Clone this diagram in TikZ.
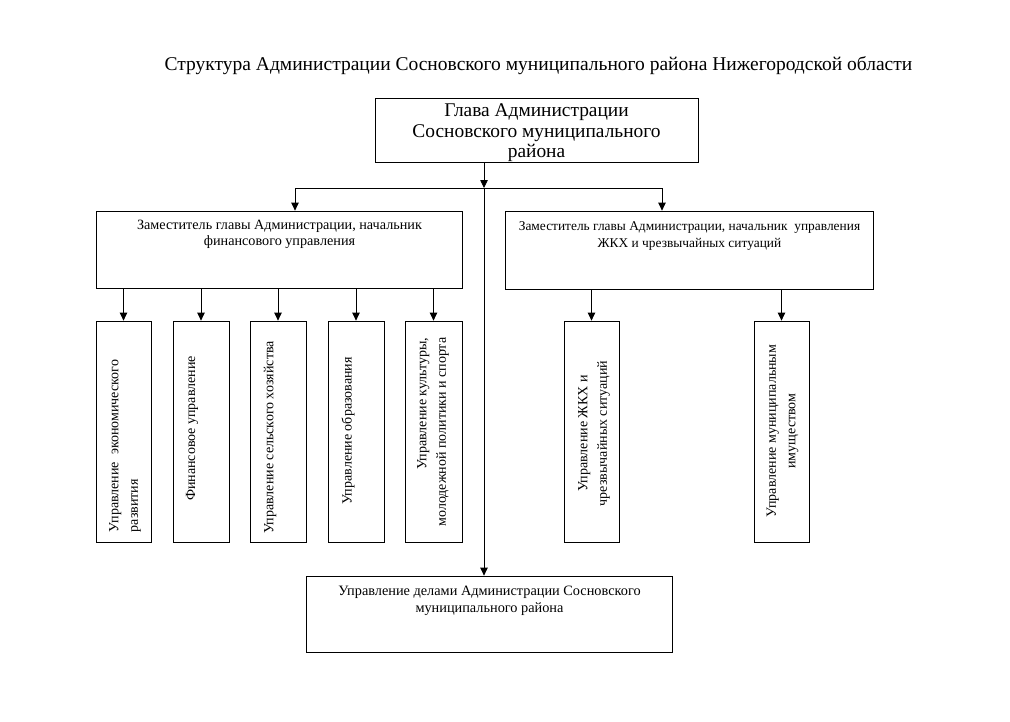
\documentclass[tikz,border=0pt]{standalone}
\usepackage{fontspec}
\setmainfont{Liberation Serif}
\usetikzlibrary{arrows.meta}
\begin{document}
\begin{tikzpicture}[x={(1pt,0)},y={(0,-1pt)},
  box/.style={draw, line width=0.8pt, inner sep=0pt},
  sub/.style={box, minimum width=56pt, minimum height=221pt},
  arr/.style={line width=0.8pt, -{Triangle[length=8pt,width=7.5pt]}},
  ln/.style={line width=0.8pt},
  vtxt/.style={rotate=90, inner sep=0pt, font=\fontsize{14}{19.5}\selectfont},
  htxt/.style={inner sep=0pt, align=center, font=\fontsize{14.2}{16.5}\selectfont}]
\fill[white] (0,0) rectangle (1010,721);
\useasboundingbox (0,0) rectangle (1010,721);

\node[inner sep=0pt, font=\fontsize{19.5}{20}\selectfont] (title) at (538.5,66) {Структура Администрации Сосновского муниципального района Нижегородской области};

\node[box, minimum width=323pt, minimum height=64pt] (top) at (536.5,130) {};
\node[inner sep=0pt, align=center, font=\fontsize{19.4}{20.5}\selectfont] (topt) at (536.5,133) {Глава Администрации\\Сосновского муниципального\\района};

\node[box, minimum width=366pt, minimum height=77pt] (dl) at (279,249.5) {};
\node[htxt, anchor=north] (dlt) at (279.5,219.5) {Заместитель главы Администрации, начальник\\финансового управления};

\node[box, minimum width=368pt, minimum height=78pt] (dr) at (689,250) {};
\node[htxt, font=\fontsize{13.4}{17}\selectfont, anchor=north] (drt) at (689.5,221) {Заместитель главы Администрации, начальник~ управления\\ЖКХ и чрезвычайных ситуаций};

\node[box, minimum width=366pt, minimum height=76pt] (bot) at (489,614) {};
\node[htxt, font=\fontsize{14.3}{17}\selectfont, anchor=north] (bott) at (489.5,585.5) {Управление делами Администрации Сосновского\\муниципального района};

\node[sub, minimum width=55pt] (b1) at (123.5,431.5) {};
\node[sub] (b2) at (201,431.5) {};
\node[sub] (b3) at (278,431.5) {};
\node[sub] (b4) at (356,431.5) {};
\node[sub, minimum width=57pt] (b5) at (433.5,431.5) {};
\node[sub, minimum width=55pt] (b6) at (591.5,431.5) {};
\node[sub, minimum width=55pt] (b7) at (781.5,431.5) {};

\node[vtxt, align=left] (t1) at (125,446) {Управление~ экономического\\развития};
\node[vtxt] (t2) at (192,428.5) {Финансовое управление};
\node[vtxt] (t3) at (270,437.5) {Управление сельского хозяйства};
\node[vtxt] (t4) at (348,431) {Управление образования};
\node[vtxt, align=right] (t5) at (433,432) {Управление культуры,\\молодежной политики и спорта};
\node[vtxt, align=center] (t6) at (594,433.5) {Управление ЖКХ и\\чрезвычайных ситуаций};
\node[vtxt, align=center] (t7) at (782.5,431) {Управление муниципальным\\имуществом};

\coordinate (j) at (484,188);
\coordinate (jl) at (295,188);
\coordinate (jr) at (662,188);
\draw[arr] (top.south -| j) -- (j);
\draw[ln] (jl) -- (jr);
\draw[arr] (jl) -- (jl |- dl.north);
\draw[arr] (jr) -- (jr |- dr.north);
\draw[arr] (j) -- (j |- bot.north);
\foreach \b in {b1,b2,b3,b4,b5} \draw[arr] (\b.north |- dl.south) -- (\b.north);
\foreach \b in {b6,b7} \draw[arr] (\b.north |- dr.south) -- (\b.north);
\end{tikzpicture}
\end{document}
